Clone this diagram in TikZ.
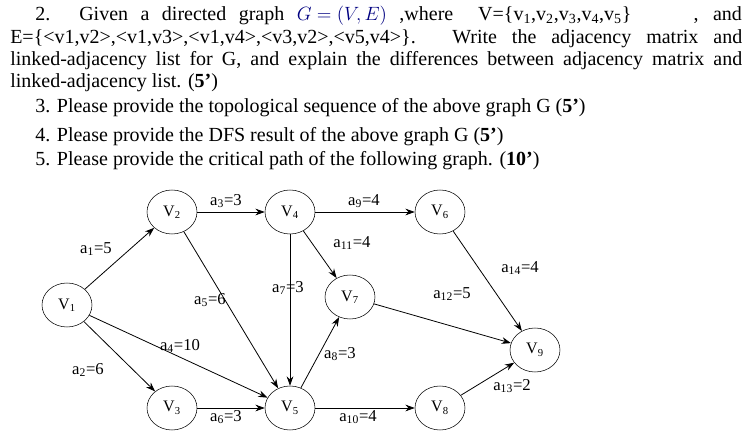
\documentclass[tikz,border=0pt]{standalone}
\usepackage{fontspec}
\setmainfont{Liberation Serif}
\usetikzlibrary{shapes.geometric,arrows.meta}
\newcommand{\sbs}[1]{\textsubscript{#1}}
\begin{document}
\begin{tikzpicture}[x=0.75pt,y=-0.75pt,
  vx/.style={ellipse,draw,thin,minimum width=37.5pt,minimum height=33pt,inner sep=0pt,font=\fontsize{12}{14}\selectfont},
  ed/.style={draw,-{Stealth[length=7pt,width=5pt]},semithick},
  tx/.style={anchor=west,inner sep=0pt,font=\fontsize{15}{17}\selectfont},
  lb/.style={font=\fontsize{12.5}{14}\selectfont,inner sep=1pt}]
\useasboundingbox (0,0) rectangle (750,434);
\node[tx] (t1) at (35,16) {\makebox[530pt][s]{2. Given a directed graph \mbox{\color{blue!50!black}$G=(V,E)$} ,where \ V=\{v\sbs{1},v\sbs{2},v\sbs{3},v\sbs{4},v\sbs{5}\} \ \ \ \ , and}};
\node[tx] (t1b) at (10,39) {\makebox[549pt][s]{E=\{<v1,v2>,<v1,v3>,<v1,v4>,<v3,v2>,<v5,v4>\}. Write the adjacency matrix and}};
\node[tx] (t1c) at (10,61) {\makebox[549pt][s]{linked-adjacency list for G, and explain the differences between adjacency matrix and}};
\node[tx] (t1d) at (10,83) {linked-adjacency list. (\textbf{5’})};
\node[tx] (t3) at (35,108) {3. Please provide the topological sequence of the above graph G (\textbf{5’})};
\node[tx] (t4) at (35,137) {4. Please provide the DFS result of the above graph G (\textbf{5’})};
\node[tx] (t5) at (35,161) {5. Please provide the critical path of the following graph. (\textbf{10’})};
\node[vx] (v1) at (67,305) {V\sbs{1}};
\node[vx] (v2) at (172,212) {V\sbs{2}};
\node[vx] (v3) at (172,408) {V\sbs{3}};
\node[vx] (v4) at (290,212) {V\sbs{4}};
\node[vx] (v5) at (290,408) {V\sbs{5}};
\node[vx] (v6) at (440,212) {V\sbs{6}};
\node[vx] (v7) at (350,297) {V\sbs{7}};
\node[vx] (v8) at (440,408) {V\sbs{8}};
\node[vx] (v9) at (535,350) {V\sbs{9}};
\path[ed] (v1) -- (v2);
\path[ed] (v1) -- (v3);
\path[ed] (v1) -- (v5);
\path[ed] (v2) -- (v4);
\path[ed] (v2) -- (v5);
\path[ed] (v3) -- (v5);
\path[ed] (v4) -- (v5);
\path[ed] (v4) -- (v7);
\path[ed] (v4) -- (v6);
\path[ed] (v5) -- (v7);
\path[ed] (v5) -- (v8);
\path[ed] (v6) -- (v9);
\path[ed] (v7) -- (v9);
\path[ed] (v8) -- (v9);
\node[lb] (l1) at (96,249) {a\sbs{1}=5};
\node[lb] (l2) at (88,370) {a\sbs{2}=6};
\node[lb] (l3) at (226,201) {a\sbs{3}=3};
\node[lb] (l4) at (180,346) {a\sbs{4}=10};
\node[lb] (l5) at (210,300) {a\sbs{5}=6};
\node[lb] (l6) at (226,417) {a\sbs{6}=3};
\node[lb] (l7) at (288,288) {a\sbs{7}=3};
\node[lb] (l8) at (340,354) {a\sbs{8}=3};
\node[lb] (l9) at (364,201) {a\sbs{9}=4};
\node[lb] (l10) at (358,417) {a\sbs{10}=4};
\node[lb] (l11) at (352,243) {a\sbs{11}=4};
\node[lb] (l12) at (452,294) {a\sbs{12}=5};
\node[lb] (l13) at (512,386) {a\sbs{13}=2};
\node[lb] (l14) at (520,268) {a\sbs{14}=4};
\end{tikzpicture}
\end{document}
